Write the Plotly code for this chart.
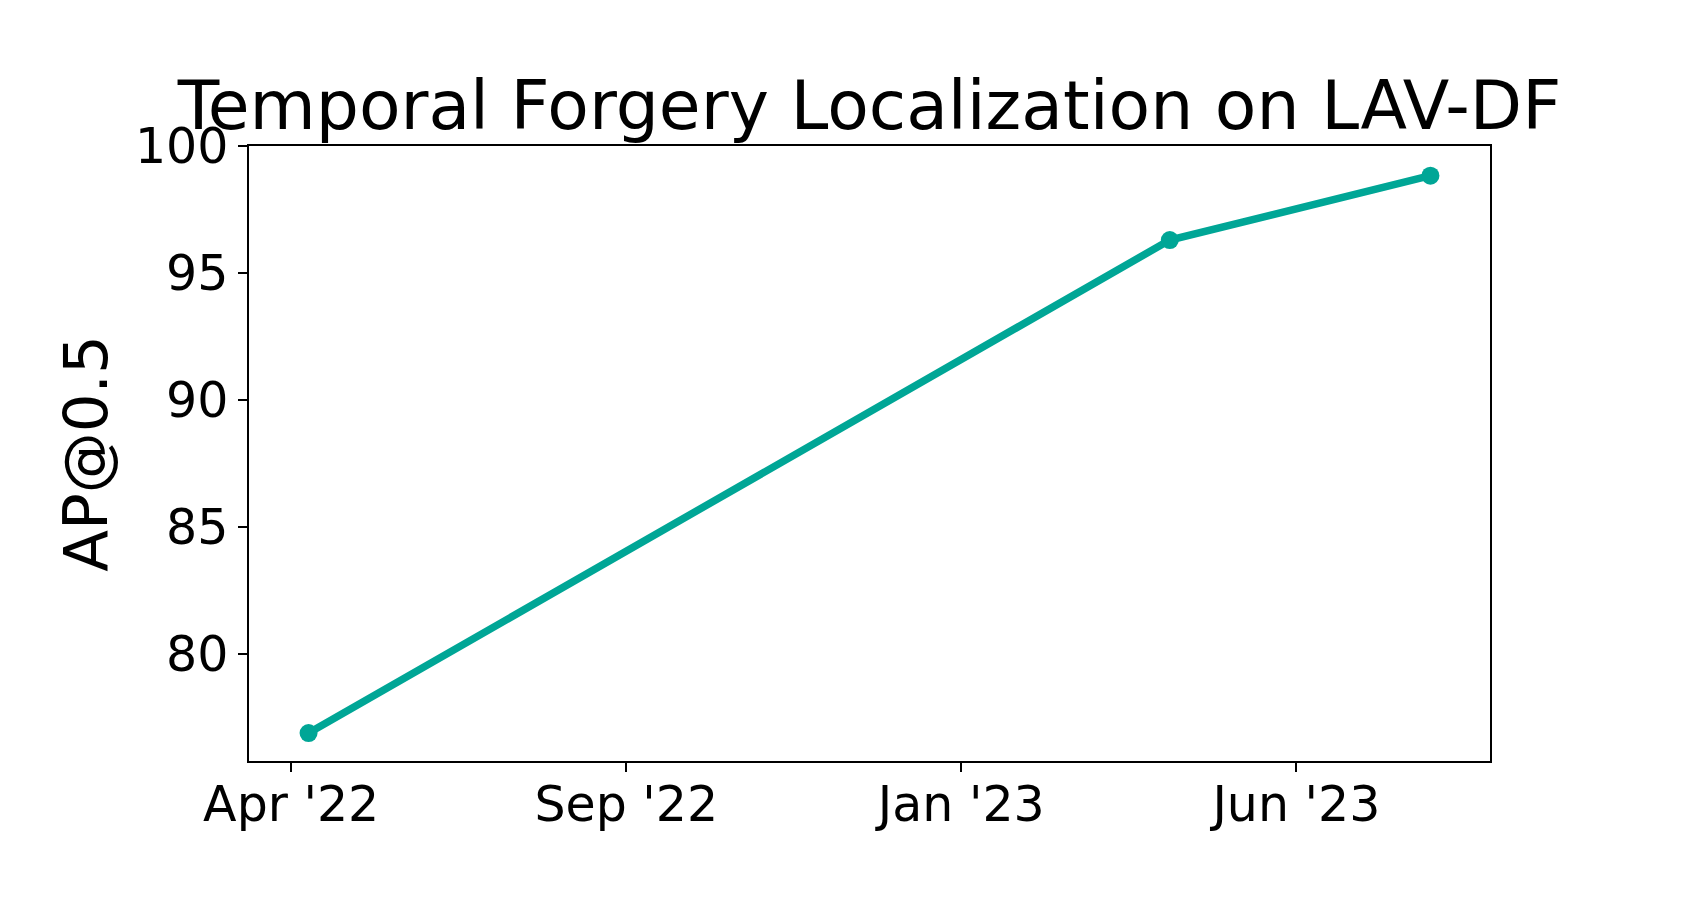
import plotly.graph_objects as go

# release dates of the methods and their AP@0.5 on LAV-DF
dates = ['2022-05-07', '2023-04-19', '2023-08-02']
ap50 = [76.9, 96.3, 98.83]

tick_dates = ['2022-04-30', '2022-09-12', '2023-01-25', '2023-06-09']
tick_labels = ["Apr '22", "Sep '22", "Jan '23", "Jun '23"]

teal = 'rgb(0,166,150)'
font = 'DejaVu Sans'

fig = go.Figure()
fig.add_trace(go.Scatter(
    x=dates,
    y=ap50,
    mode='lines+markers',
    line=dict(color=teal, width=7.5),
    marker=dict(color=teal, size=18),
    showlegend=False,
))

fig.update_layout(
    width=1700,
    height=900,
    template=None,
    paper_bgcolor='white',
    plot_bgcolor='white',
    font=dict(family=font, color='black'),
    # page puts the plot 8px in from the top-left corner
    margin=dict(l=241, r=218, t=138, b=147),
    title=dict(
        text='Temporal Forgery Localization on LAV-DF',
        font=dict(size=68, family=font, color='black'),
        x=0.5, xref='paper', xanchor='center',
        y=1 - 97 / 900, yref='container', yanchor='middle',
    ),
)

fig.update_xaxes(
    type='date',
    range=['2022-04-13', '2023-08-26'],
    tickvals=tick_dates,
    ticktext=tick_labels,
    tickfont=dict(size=49),
    ticklabelstandoff=-10,
    ticks='outside', ticklen=9, tickwidth=1.5, tickcolor='black',
    showline=True, linecolor='black', linewidth=1.5, mirror=True,
    showgrid=False, zeroline=False,
)
fig.update_yaxes(
    range=[75.8, 100],
    tickvals=[80, 85, 90, 95, 100],
    tickfont=dict(size=49),
    ticks='outside', ticklen=9, tickwidth=1.5, tickcolor='black',
    showline=True, linecolor='black', linewidth=1.5, mirror=True,
    showgrid=False, zeroline=False,
    title=dict(text='AP@0.5', font=dict(size=61), standoff=8),
)

fig.write_html('out.html')
